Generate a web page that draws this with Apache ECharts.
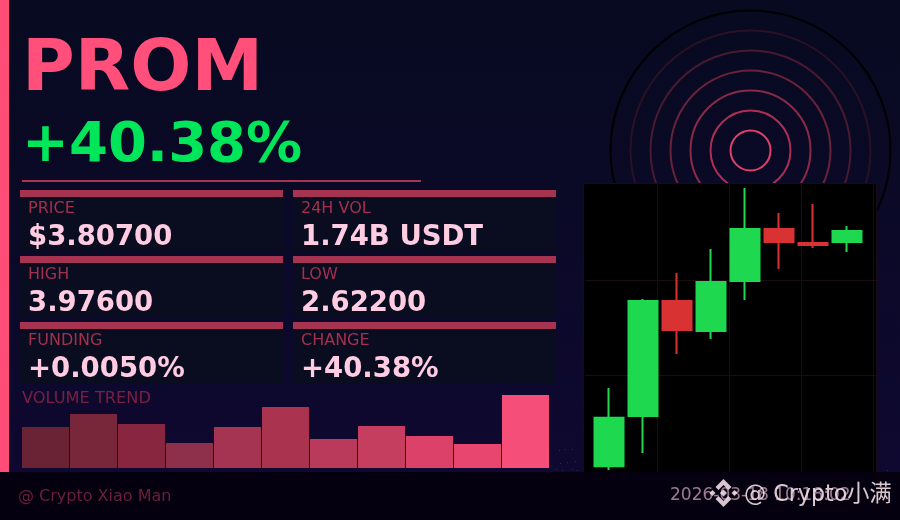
<!DOCTYPE html>
<html><head><meta charset="utf-8">
<style>html,body{margin:0;padding:0;background:#080a24}#c{width:900px;height:520px}</style>
<script src="https://cdn.jsdelivr.net/npm/echarts@6/dist/echarts.min.js"></script>
</head><body><div id="c"></div>
<script>
const symbol = 'PROM';
const changeText = '+40.38%';
const cardLabels = ['PRICE','24H VOL','HIGH','LOW','FUNDING','CHANGE'];
const cardValues = ['$3.80700','1.74B USDT','3.97600','2.62200','+0.0050%','+40.38%'];
const volumeValues = [41,54,44,25,41,61,29,42,32,24,73];
const candleCats = ['1','2','3','4','5','6','7','8'];
const candleOpen  = [2.523,2.787,3.392,3.234,3.497,3.771,3.698,3.702];
const candleClose = [2.777,3.392,3.239,3.492,3.771,3.702,3.687,3.761];
const candleLow   = [2.503,2.592,3.113,3.192,3.397,3.561,3.671,3.650];
const candleHigh  = [2.934,3.403,3.539,3.666,3.987,3.855,3.903,3.787];
const footerLeft = '@ Crypto Xiao Man';
const footerDate = '2026-03-18 10:18:02';
const watermark = '@ Crypto小满';

const barColors = ['#692334','#78263a','#87263e','#8e304b','#a53452','#aa3450','#b93a5a','#c63e5f','#dc4169','#e8466e','#f54e78'];
const F = '"DejaVu Sans"';
const g = [];
const txt = (x,base,text,size,fill,weight,z,family) => g.push({type:'text',z:z||5,style:{x,y:Math.round(base-0.815*size),text,fill,font:(weight||'normal')+' '+size+'px '+(family||F),textAlign:'left'},silent:true});
const rect = (x,y,w,h,fill,z) => g.push({type:'rect',z:z||1,shape:{x,y,width:w,height:h},style:{fill},silent:true});

g.push({type:'rect',z:-10,shape:{x:0,y:0,width:900,height:520},style:{fill:new echarts.graphic.LinearGradient(0,0,0,1,[{offset:0,color:'#070a20'},{offset:0.9,color:'#0f0830'},{offset:1,color:'#0f0830'}])},silent:true});
[[140,'#000000'],[120,'#2a1224'],[100,'#481a30'],[80,'#6a223a'],[60,'#8a2a48'],[40,'#ac2e52'],[20,'#e23f68']].forEach(r=>{
  g.push({type:'circle',z:-5,shape:{cx:750.5,cy:150.5,r:r[0]},style:{fill:'none',stroke:r[1],lineWidth:2},silent:true});
});
[[559,450],[565,449],[572,449],[560,463],[567,462],[575,461],[556,469],[562,470],[572,469],[577,470],[887,470]].forEach(d=>rect(d[0],d[1],1,1,'#332a52',-4));
rect(0,0,9,520,'#ff4d78',1);
txt(22,94,symbol,72,'#ff4f7a','bold');
txt(22,164,changeText,56,'#00e65a','bold');
rect(22,180,399,2,'#a83450',1);
cardLabels.forEach((l,i)=>{
  const x = i%2 ? 293 : 20, y = 190 + 66*Math.floor(i/2);
  rect(x,y+7,263,54.5,'#0a0d20',1);
  rect(x,y,263,7,'#a63450',2);
  txt(x+8,y+24,l,16,'#a3304d');
  txt(x+8,y+56,cardValues[i],27.5,'#ffcce2','bold');
});
txt(22,404,'VOLUME TREND',16.2,'#7a2040');
g.push({type:'rect',z:-1,shape:{x:583.5,y:183.5,width:293,height:290},style:{fill:'#000000',stroke:'#1a0a12',lineWidth:1},silent:true});
rect(0,472,900,48,'#04000f',20);
txt(18,502,footerLeft,16,'#6d1f3a','normal',21);
txt(670,501,footerDate,17,'rgba(255,204,226,0.6)','normal',21);
txt(744,502,watermark,22.2,'rgba(255,235,240,0.85)','normal',22,'"DejaVu Sans","Noto Sans CJK SC"');
const wm='rgba(255,232,240,0.85)';
const poly=(pts)=>g.push({type:'polygon',z:22,shape:{points:pts.map(p=>[723.5+p[0],493+p[1]])},style:{fill:wm},silent:true});
poly([[0,-14],[8,-6],[5,-3],[0,-8],[-5,-3],[-8,-6]]);
poly([[0,14],[8,6],[5,3],[0,8],[-5,3],[-8,6]]);
poly([[0,-3.5],[3.5,0],[0,3.5],[-3.5,0]]);
poly([[-11,-3],[-8,0],[-11,3],[-14,0]]);
poly([[11,-3],[14,0],[11,3],[8,0]]);

const gridLine = {show:true,showMinLine:false,showMaxLine:false,lineStyle:{color:'#1c0c12',width:1}};
const option = {
  animation:false,
  graphic:{elements:g},
  grid:[
    {left:21.5,top:395,width:528,height:73},
    {left:585,top:185.5,width:291,height:285},
    {left:592,top:185.5,width:272,height:285},
    {left:585.5,top:184,width:288,height:288}
  ],
  xAxis:[
    {gridIndex:0,type:'category',data:volumeValues.map((_,i)=>i),show:false},
    {gridIndex:1,type:'value',min:0,max:1,show:false},
    {gridIndex:2,type:'category',data:candleCats,show:false},
    {gridIndex:3,type:'value',min:0,max:4,interval:1,axisLine:{show:false},axisTick:{show:false},axisLabel:{show:false},splitLine:Object.assign({},gridLine,{showMaxLine:true})}
  ],
  yAxis:[
    {gridIndex:0,type:'value',min:0,max:73,show:false},
    {gridIndex:1,type:'value',min:2.5,max:4,interval:0.5,axisLine:{show:false},axisTick:{show:false},axisLabel:{show:false},splitLine:gridLine},
    {gridIndex:2,type:'value',min:2.5,max:4,show:false},
    {gridIndex:3,type:'value',min:0,max:1,show:false,splitLine:{show:false}}
  ],
  series:[
    {type:'bar',xAxisIndex:0,yAxisIndex:0,barWidth:47,silent:true,
     data:volumeValues.map((v,i)=>({value:v,itemStyle:{color:barColors[i]}}))},
    {type:'candlestick',xAxisIndex:2,yAxisIndex:2,barWidth:30,silent:true,
     itemStyle:{color:'#1ed94f',color0:'#d93232',borderColor:'#1ed94f',borderColor0:'#d93232',borderWidth:2},
     data:candleCats.map((_,i)=>[candleOpen[i],candleClose[i],candleLow[i],candleHigh[i]])}
  ]
};
echarts.init(document.getElementById('c'),null,{renderer:'canvas'}).setOption(option);
</script></body></html>
